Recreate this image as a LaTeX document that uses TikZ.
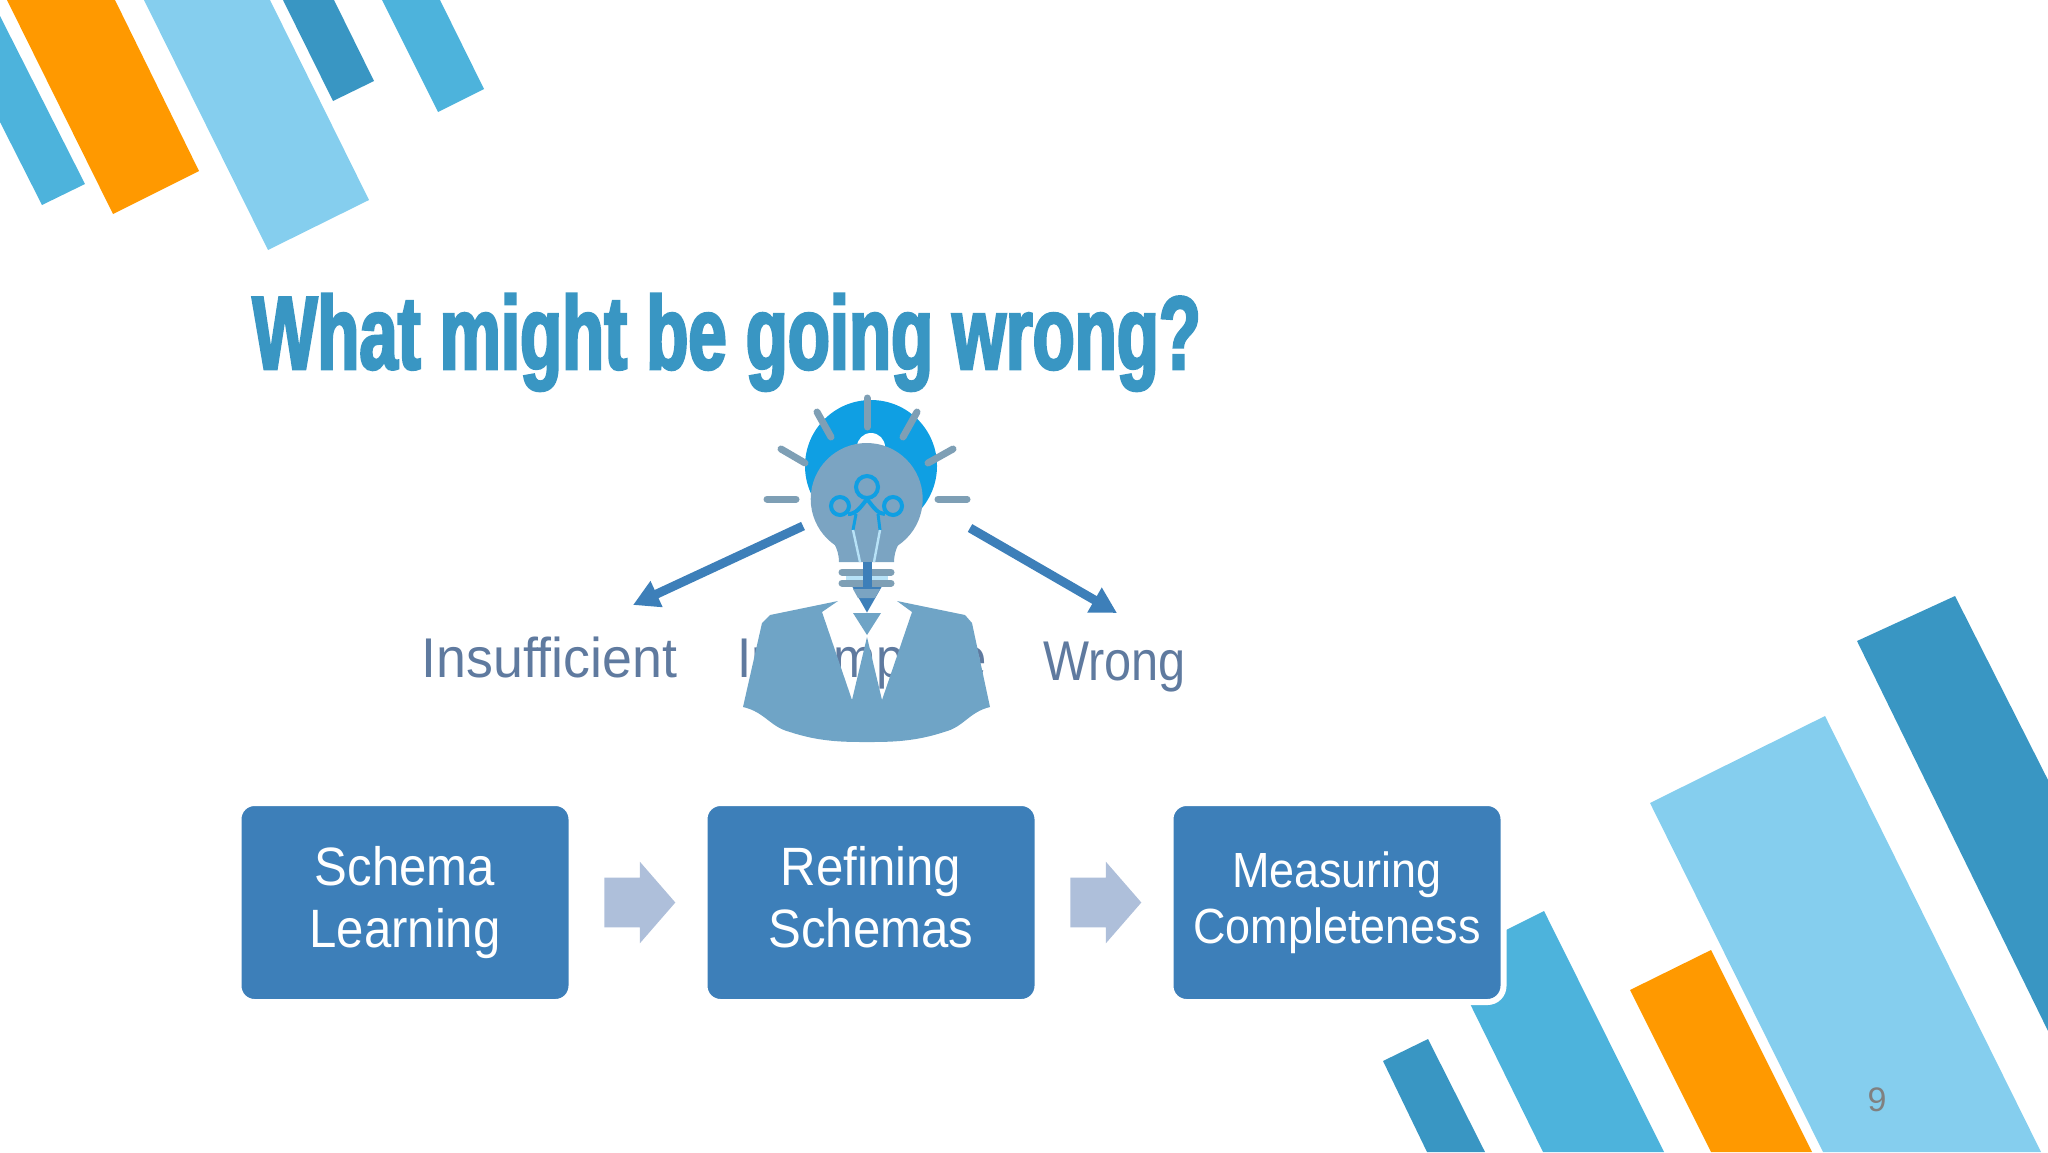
\documentclass[tikz,border=0pt]{standalone}
\usepackage{fontspec}
\usepackage{tikz}
\usetikzlibrary{arrows.meta,shapes.arrows}
\newfontfamily\titlefont[FakeStretch=0.662,FakeBold=2.5]{Liberation Sans Bold}
\newfontfamily\boxfont[FakeStretch=0.91]{Liberation Sans}
\newfontfamily\labelfont[FakeStretch=0.91]{Liberation Sans}
\newfontfamily\widelabelfont[FakeStretch=0.96]{Liberation Sans}
\newfontfamily\narrowlabelfont[FakeStretch=0.87]{Liberation Sans}
\definecolor{barlight}{HTML}{85CEEE}
\definecolor{barmid}{HTML}{4DB3DC}
\definecolor{bardark}{HTML}{3996C3}
\definecolor{barorange}{HTML}{FF9900}
\definecolor{boxblue}{HTML}{3D7FB9}
\definecolor{flowgrey}{HTML}{AEBFDA}
\definecolor{labelblue}{HTML}{5F7A9F}
\definecolor{suitblue}{HTML}{6FA4C6}
\definecolor{bulbgrey}{HTML}{7BA4C2}
\definecolor{raygrey}{HTML}{7E9FB5}
\definecolor{glowblue}{HTML}{0F9FE3}
\tikzset{
  schemabox/.style={shape=rectangle, rounded corners=8pt, draw=white, line width=3pt, fill=boxblue, text=white,
    minimum width=166.5pt, minimum height=99.5pt, align=center, font=\boxfont\fontsize{27}{31}\selectfont,
    execute at begin node={\rule{0pt}{0.84em}}},
  flowarrow/.style={shape=single arrow, fill=flowgrey, inner xsep=0pt, inner ysep=12.25pt, minimum height=35.5pt,
    single arrow head extend=8pt, single arrow tip angle=98},
  problem/.style={anchor=base west, inner sep=0pt, text=labelblue, font=\labelfont\fontsize{28}{32}\selectfont},
  problemarrow/.style={->, color=boxblue, line width=4.5pt},
  ray/.style={draw=raygrey, line width=3.5pt, line cap=round}
}
\begin{document}
\begin{tikzpicture}[x=0.5pt,y=-0.5pt,>={Triangle[length=13pt,width=13.5pt]},node distance=233pt]
\useasboundingbox (0,0) rectangle (2048,1152);
\fill[barmid] (0,16) -- (85,184) -- (42,205) -- (0,122) -- cycle;
\fill[barorange] (7,0) -- (115,0) -- (199,171) -- (113,214) -- cycle;
\fill[barlight] (144,0) -- (270,0) -- (369,200) -- (268,250) -- cycle;
\fill[bardark] (283,0) -- (334,0) -- (374,81) -- (333,101) -- cycle;
\fill[barmid] (382,0) -- (440,0) -- (484,89) -- (438,112) -- cycle;
\fill[bardark] (1857,641) -- (1955,596) -- (2048,780) -- (2048,1031) -- cycle;
\fill[barlight] (1650,803) -- (1825,716) -- (2041,1152) -- (1823,1152) -- cycle;
\fill[barorange] (1630,990) -- (1711,950) -- (1812,1152) -- (1711,1152) -- cycle;
\fill[barmid] (1448,959) -- (1544,911) -- (1664,1152) -- (1543,1152) -- cycle;
\fill[bardark] (1383,1061) -- (1428,1039) -- (1485,1152) -- (1427,1152) -- cycle;
\node[anchor=base west, inner sep=0pt, text=bardark, font=\titlefont\fontsize{52}{60}\selectfont] (title) at (252,369) {What might be going wrong?};
\node[problem, font=\widelabelfont\fontsize{28}{32}\selectfont] (insufficient) at (421,677) {Insufficient};
\node[problem] (incomplete) at (737,677) {Incomplete};
\node[problem, font=\narrowlabelfont\fontsize{28}{32}\selectfont] (wrong) at (1043,680) {Wrong};
\coordinate (bulbleft) at (803,526);
\coordinate (insufficienttip) at (633,605);
\coordinate (bulbright) at (970,528);
\coordinate (wrongtip) at (1117,613);
\coordinate (bulbbase) at (867,562);
\coordinate (incompletetip) at (867,613);
\path (bulbleft) edge[problemarrow] (insufficienttip)
	(bulbright) edge[problemarrow] (wrongtip);
\fill[suitblue] (838,601) -- (770,615) -- (762,623) -- (743,707) .. controls (765,712) and (770,727) .. (790,732)
	.. controls (820,742) and (845,742) .. (867,742) .. controls (889,742) and (914,742) .. (944,732)
	.. controls (964,727) and (969,712) .. (990,707) -- (972,623) -- (965,615) -- (897,601) -- (912,612)
	-- (882,700) -- (867,637) -- (852,700) -- (822,612) -- cycle;
\fill[suitblue] (853,613) -- (881,613) -- (867,635) -- cycle;
\fill[glowblue] (871,466) circle (66);
\fill[white] (871,447) circle (14);
\foreach \xa/\ya/\xb/\yb in {867/398/867/427, 817/412/831/437, 917/412/903/437, 781/449/805/463, 953/449/928/463, 767/499/796/499, 938/499/967/499}
	\draw[ray] (\xa,\ya) -- (\xb,\yb);
\fill[bulbgrey] (866.7,499) circle (56);
\fill[bulbgrey] (811,499) .. controls (811,525) and (839,535) .. (839,562) -- (894,562) .. controls (894,535) and (922,525) .. (922,499) -- cycle;
\draw[glowblue, line width=2pt] (867,487) circle (11) (840,506) circle (9) (893,506) circle (9);
\draw[glowblue, line width=2pt] (848,514) .. controls (856,514) and (860,508) .. (867,499) .. controls (874,508) and (878,514) .. (885,514);
\draw[glowblue, line width=1.5pt] (856,514) -- (853,530) (878,514) -- (880,530);
\draw[white!70!glowblue, line width=1.2pt] (853,530) -- (860,562) (880,530) -- (874,562);
\fill[white!70!glowblue] (846,572) rectangle (888,583);
\draw[draw=raygrey, line width=3.5pt, line cap=round] (842,572) -- (891,572) (842,583) -- (891,583);
\path (bulbbase) edge[problemarrow] (incompletetip);
\fill[bulbgrey] (853,589) -- (880,589) -- (875,598) -- (858,598) -- cycle;
\node[schemabox] (schema) at (405,902.5) {Schema\\Learning};
\node[schemabox] (refining) [right of=schema] {Refining\\\vphantom{g}Schemas};
\node[schemabox, font=\boxfont\fontsize{24.7}{28}\selectfont] (measuring) [right of=refining] {Measuring\\Completeness};
\node[flowarrow] (flowa) [right of=schema, node distance=112pt] {};
\node[flowarrow] (flowb) [right of=refining, node distance=112pt] {};
\node[text=gray, inner sep=0pt, font=\fontspec{Liberation Sans}\fontsize{17}{20}\selectfont] (pagenum) at (1877,1100) {9};
\end{tikzpicture}
\end{document}
